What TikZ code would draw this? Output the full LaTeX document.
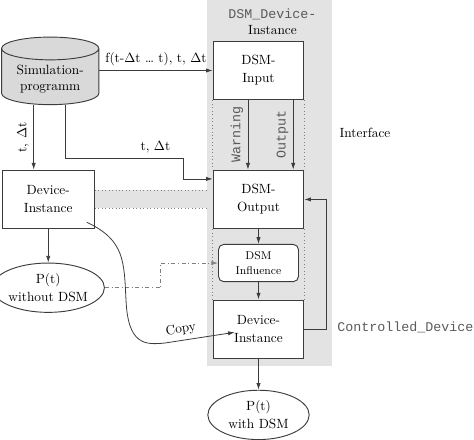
\documentclass[tikz,border=0pt]{standalone}
\usepackage{fontspec}
\setmonofont{Liberation Mono}
\usetikzlibrary{shapes.geometric, arrows.meta, positioning, calc, backgrounds}
\definecolor{linegray}{HTML}{3C3C3C}
\definecolor{monogray}{HTML}{5A5A5A}
\definecolor{bggray}{HTML}{E3E3E3}
\definecolor{cylgray}{HTML}{D9D9D9}
\tikzset{
    block/.style={
        rectangle,
        draw=linegray,
        line width=0.7pt,
        minimum width=68pt,
        minimum height=44pt,
        fill=white,
        align=center,
        font=\fontsize{10}{13.5}\selectfont
    },
    influence/.style={
        rectangle,
        rounded corners=4pt,
        draw=linegray,
        line width=0.7pt,
        minimum width=60pt,
        minimum height=28pt,
        fill=white,
        align=center,
        font=\fontsize{8.5}{11}\selectfont
    },
    result/.style={
        ellipse,
        draw=linegray,
        line width=0.7pt,
        minimum width=76pt,
        minimum height=37pt,
        inner sep=0pt,
        fill=white,
        align=center,
        font=\fontsize{10}{13.5}\selectfont
    },
    database/.style={
        cylinder,
        shape border rotate=90,
        aspect=0.3,
        draw=linegray,
        line width=0.7pt,
        minimum width=73pt,
        minimum height=38pt,
        fill=cylgray,
        align=center,
        font=\fontsize{10}{12.5}\selectfont
    },
    wire/.style={
        draw=linegray,
        line width=0.6pt,
        -{Latex[length=5pt,width=3.2pt]}
    },
    dashwire/.style={
        draw=gray,
        line width=0.6pt,
        dash dot,
        -{Latex[length=5pt,width=3.2pt]}
    },
    bounddot/.style={
        draw=gray,
        line width=0.6pt,
        dotted
    },
    mono/.style={
        font=\ttfamily,
        text=monogray
    },
    signal/.style={
        mono,
        rotate=90
    }
}

\begin{document}
\begin{tikzpicture}[node distance=52pt and 85pt]
\useasboundingbox (0,0) rectangle (355.5pt,-329.25pt);

% DSM chain
\node[block] (din) at (193.875pt,-52.875pt) {DSM-\\Input};
\node[block, below=of din] (dout) {DSM-\\Output};
\node[influence, below=11pt of dout] (infl) {DSM\\Influence};
\node[block, below=13pt of infl] (dev2) {Device-\\Instance};
\node[result, below=23pt of dev2] (pwith) {P(t)\\with DSM};

% Simulation and device without DSM
\node[database, left=of din, yshift=-6.5pt] (sim) {Simulation-\\programm};
\node[block, left=88.5pt of dout, minimum width=69pt] (dev1) {Device-\\Instance};
\node[result, below=25pt of dev1, minimum width=75pt] (pwo) {P(t)\\without DSM};

% Labels
\node[align=center, above=3pt of din, xshift=10.5pt, inner sep=1pt] (title) {{\ttfamily\color{monogray}DSM\_Device-}\\Instance};
\node (iface) at (273.75pt,-99.75pt) {Interface};
\node[mono, anchor=west, inner sep=0pt] (ctrl) at (252.75pt,-245.25pt) {Controlled\_Device};

% Grey background and interface band
\begin{scope}[on background layer]
\fill[bggray] ($(din.north west)+(-4.5pt,30.75pt)$) rectangle ($(dev2.south east)+(21pt,-5.25pt)$);
\fill[bggray] ($(dev1.east)+(0,6.75pt)$) rectangle ($(dout.west)+(0,-6.75pt)$);
\end{scope}
\draw[bounddot] ($(dev1.east)+(0,6.75pt)$) -- ($(dout.west)+(-4.5pt,6.75pt)$);
\draw[bounddot] ($(dev1.east)+(0,-6.75pt)$) -- ($(dout.west)+(-4.5pt,-6.75pt)$);
\draw[bounddot] (din.south west) -- (dout.north west);
\draw[bounddot] (din.south east) -- (dout.north east);
\draw[bounddot] (dout.south west) -- (dev2.north west);
\draw[bounddot] (dout.south east) -- (dev2.north east);

% Signals
\coordinate (warnsrc) at ($(din.south west)!0.385!(din.south east)$);
\coordinate (outsrc) at ($(din.south west)!0.879!(din.south east)$);
\draw[wire] (warnsrc) -- node[signal, above] {Warning} (warnsrc |- dout.north);
\draw[wire] (outsrc) -- node[signal, above] {Output} (outsrc |- dout.north);

% Simulation connections
\draw[wire] (sim.east |- din.west) -- node[above] {f(t-$\Delta$t \dots{} t), t, $\Delta$t} (din.west);
\coordinate (simleft) at ($(sim.south)+(-12.4pt,0)$);
\coordinate (simright) at ($(sim.south)+(11.6pt,0)$);
\coordinate (doutin) at ($(dout.west)+(0,15.4pt)$);
\draw[wire] (simleft) -- node[rotate=90, above] {t, $\Delta$t} (simleft |- dev1.north);
\draw[wire] (simright) |- ($(doutin)+(-21.75pt,15.75pt)$) node[pos=0.88, above] {t, $\Delta$t} -- ($(doutin)+(-21.75pt,0)$) -- (doutin);

% Outputs and feedback
\draw[wire] (dout) -- (infl);
\draw[wire] (infl) -- (dev2);
\draw[wire] (dev2) -- (pwith);
\draw[wire] (dev2.east) -- ++(16.5pt,0) |- (dout.east);
\draw[wire] (dev1) -- (pwo);
\draw[dashwire] (pwo.east) -- ++(42pt,0) |- (infl.west);

% Copy
\coordinate (copysrc) at ($(dev1.south east)+(-6pt,5.25pt)$);
\coordinate (copydst) at ($(dev2.west)+(16.5pt,-2.25pt)$);
\draw[wire] (copysrc) .. controls (93.75pt,-180pt) and (93pt,-196.5pt) .. (94.5pt,-225pt)
    .. controls (96pt,-258.75pt) and (108.75pt,-258.75pt) .. (123.75pt,-257.25pt)
    -- node[sloped, above, pos=0.25] {Copy} (copydst);

\end{tikzpicture}
\end{document}
